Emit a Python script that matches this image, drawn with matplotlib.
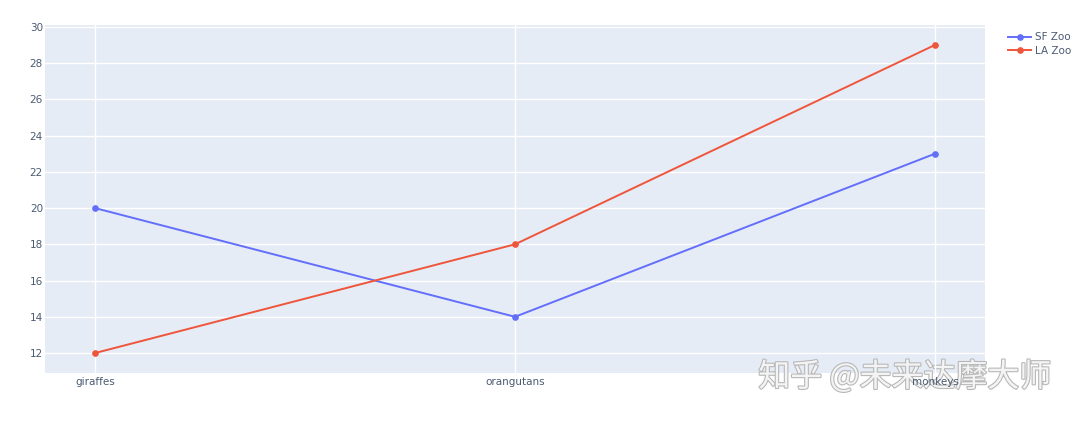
import matplotlib
matplotlib.use("Agg")
import matplotlib.pyplot as plt
import matplotlib.patheffects as pe

animals = ["giraffes", "orangutans", "monkeys"]
sf_zoo = [20, 14, 23]
la_zoo = [12, 18, 29]
y_ticks = [12, 14, 16, 18, 20, 22, 24, 26, 28, 30]

plt.rcParams['font.family'] = ['DejaVu Sans']
txt = '#4b5b72'

fig = plt.figure(figsize=(10.8, 4.21), dpi=100)
ax = fig.add_axes([45 / 1080, 1 - 373 / 421, 940 / 1080, 348 / 421])
ax.set_facecolor('#E5ECF6')

x = list(range(len(animals)))
ax.plot(x, sf_zoo, '-o', color='#636efa', lw=1.4, ms=3.8, label='SF Zoo', zorder=3)
ax.plot(x, la_zoo, '-o', color='#EF553B', lw=1.4, ms=3.8, label='LA Zoo', zorder=3)

ax.set_xlim(-0.119, 2.119)
ax.set_ylim(10.9, 30.1)
ax.set_xticks(x)
ax.set_xticklabels(animals)
ax.set_yticks(y_ticks)
ax.grid(True, color='white', lw=1)
ax.set_axisbelow(True)
for s in ax.spines.values():
    s.set_visible(False)
ax.tick_params(length=0, labelsize=7.5, colors=txt)
ax.tick_params(axis='x', pad=3)
ax.tick_params(axis='y', pad=1.5)

leg = fig.legend(loc='upper left', bbox_to_anchor=(1004 / 1080, 1 - 28 / 421),
                 frameon=False, fontsize=7.5, handlelength=2.2, handletextpad=0.4,
                 labelspacing=0.35, borderaxespad=0)
for t in leg.get_texts():
    t.set_color(txt)

# watermark: above the plot background, below the tick labels
ax.text(905 / 1080, 1 - 377 / 421, '知乎 @未来达摩大师', transform=fig.transFigure,
        family=['Noto Sans CJK SC', 'DejaVu Sans'], clip_on=False,
        fontsize=23, color='#f4f4f4', ha='center', va='center', zorder=0.4,
        path_effects=[pe.withStroke(linewidth=1.6, foreground='#b8b8b8')])

fig.savefig('out.png', dpi=100)
